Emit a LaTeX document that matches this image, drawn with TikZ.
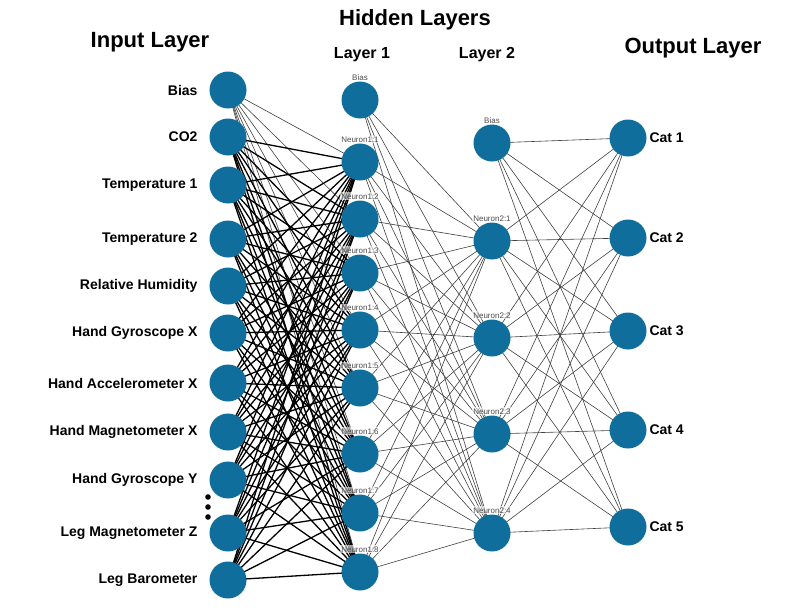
\documentclass[tikz,border=0pt]{standalone}
\usepackage{fontspec}
\setmainfont{Liberation Sans}
\usetikzlibrary{positioning}
\definecolor{nb}{HTML}{0F6E9C}
\begin{document}
\begin{tikzpicture}[x=1pt,y=-1pt,
  neu/.style={circle,fill=nb,minimum size=37pt,inner sep=0pt},
  lab/.style={font=\bfseries\fontsize{14}{14}\selectfont},
  ttl/.style={font=\bfseries\fontsize{22}{22}\selectfont},
  sub/.style={font=\bfseries\fontsize{16}{16}\selectfont},
  tiny/.style={font=\fontsize{8}{8}\selectfont,text=black!70,inner sep=1pt},
  thick1/.style={black,line width=1.3pt},
  thin1/.style={black!75,line width=0.6pt}]
\useasboundingbox (0,0) rectangle (785,616);
\node[ttl] (tin) at (150,42) {Input Layer};
\node[ttl] (thid) at (415,20) {Hidden Layers};
\node[sub] (tl1) at (362,55) {Layer 1};
\node[sub] (tl2) at (487,55) {Layer 2};
\node[ttl] (tout) at (693,48) {Output Layer};
\foreach \i/\y in {0/90,1/137,2/185,3/239,4/286,5/333,6/383,7/432,8/480,9/533,10/580}{\coordinate (i\i) at (228,\y);}
\coordinate (h0) at (360,100);
\foreach \i/\y in {1/162,2/219,3/273,4/330,5/388,6/454,7/513,8/572}{\coordinate (h\i) at (360,\y);}
\coordinate (g0) at (492,143);
\foreach \i/\y in {1/241,2/338,3/434,4/533}{\coordinate (g\i) at (492,\y);}
\foreach \i/\y in {1/138,2/238,3/331,4/430,5/527}{\coordinate (o\i) at (628,\y);}
\foreach \j in {1,...,8}{\draw[thin1] (i0) -- (h\j);}
\foreach \i in {1,...,10}{\foreach \j in {1,...,8}{\draw[thick1] (i\i) -- (h\j);}}
\foreach \i in {0,...,8}{\foreach \j in {1,...,4}{\draw[thin1] (h\i) -- (g\j);}}
\foreach \i in {0,...,4}{\foreach \j in {1,...,5}{\draw[thin1] (g\i) -- (o\j);}}
\foreach \i/\t in {0/Bias,1/CO2,2/Temperature 1,3/Temperature 2,4/Relative Humidity,5/Hand Gyroscope X,6/Hand Accelerometer X,7/Hand Magnetometer X,8/Hand Gyroscope Y,9/Leg Magnetometer Z,10/Leg Barometer}{
  \node[neu] (ni\i) at (i\i) {};
  \node[lab,anchor=east] (li\i) at ([xshift=-27pt]i\i) {\t};
}
\foreach \k/\y in {a/497,b/507,c/517}{\fill (208,\y) circle (2.8);}
\node[neu] (nh0) at (h0) {};
\node[tiny,above=0pt of nh0] (lh0) {Bias};
\foreach \i in {1,...,8}{
  \node[neu] (nh\i) at (h\i) {};
  \node[tiny,fill=white,fill opacity=0.6,text opacity=1,above=0pt of nh\i] (lh\i) {Neuron1:\i};
}
\node[neu] (ng0) at (g0) {};
\node[tiny,above=0pt of ng0] (lg0) {Bias};
\foreach \i in {1,...,4}{
  \node[neu] (ng\i) at (g\i) {};
  \node[tiny,fill=white,fill opacity=0.6,text opacity=1,above=0pt of ng\i] (lg\i) {Neuron2:\i};
}
\foreach \i in {1,...,5}{
  \node[neu] (no\i) at (o\i) {};
  \node[lab,anchor=west] (lo\i) at ([xshift=18pt]o\i) {Cat \i};
}
\end{tikzpicture}
\end{document}
